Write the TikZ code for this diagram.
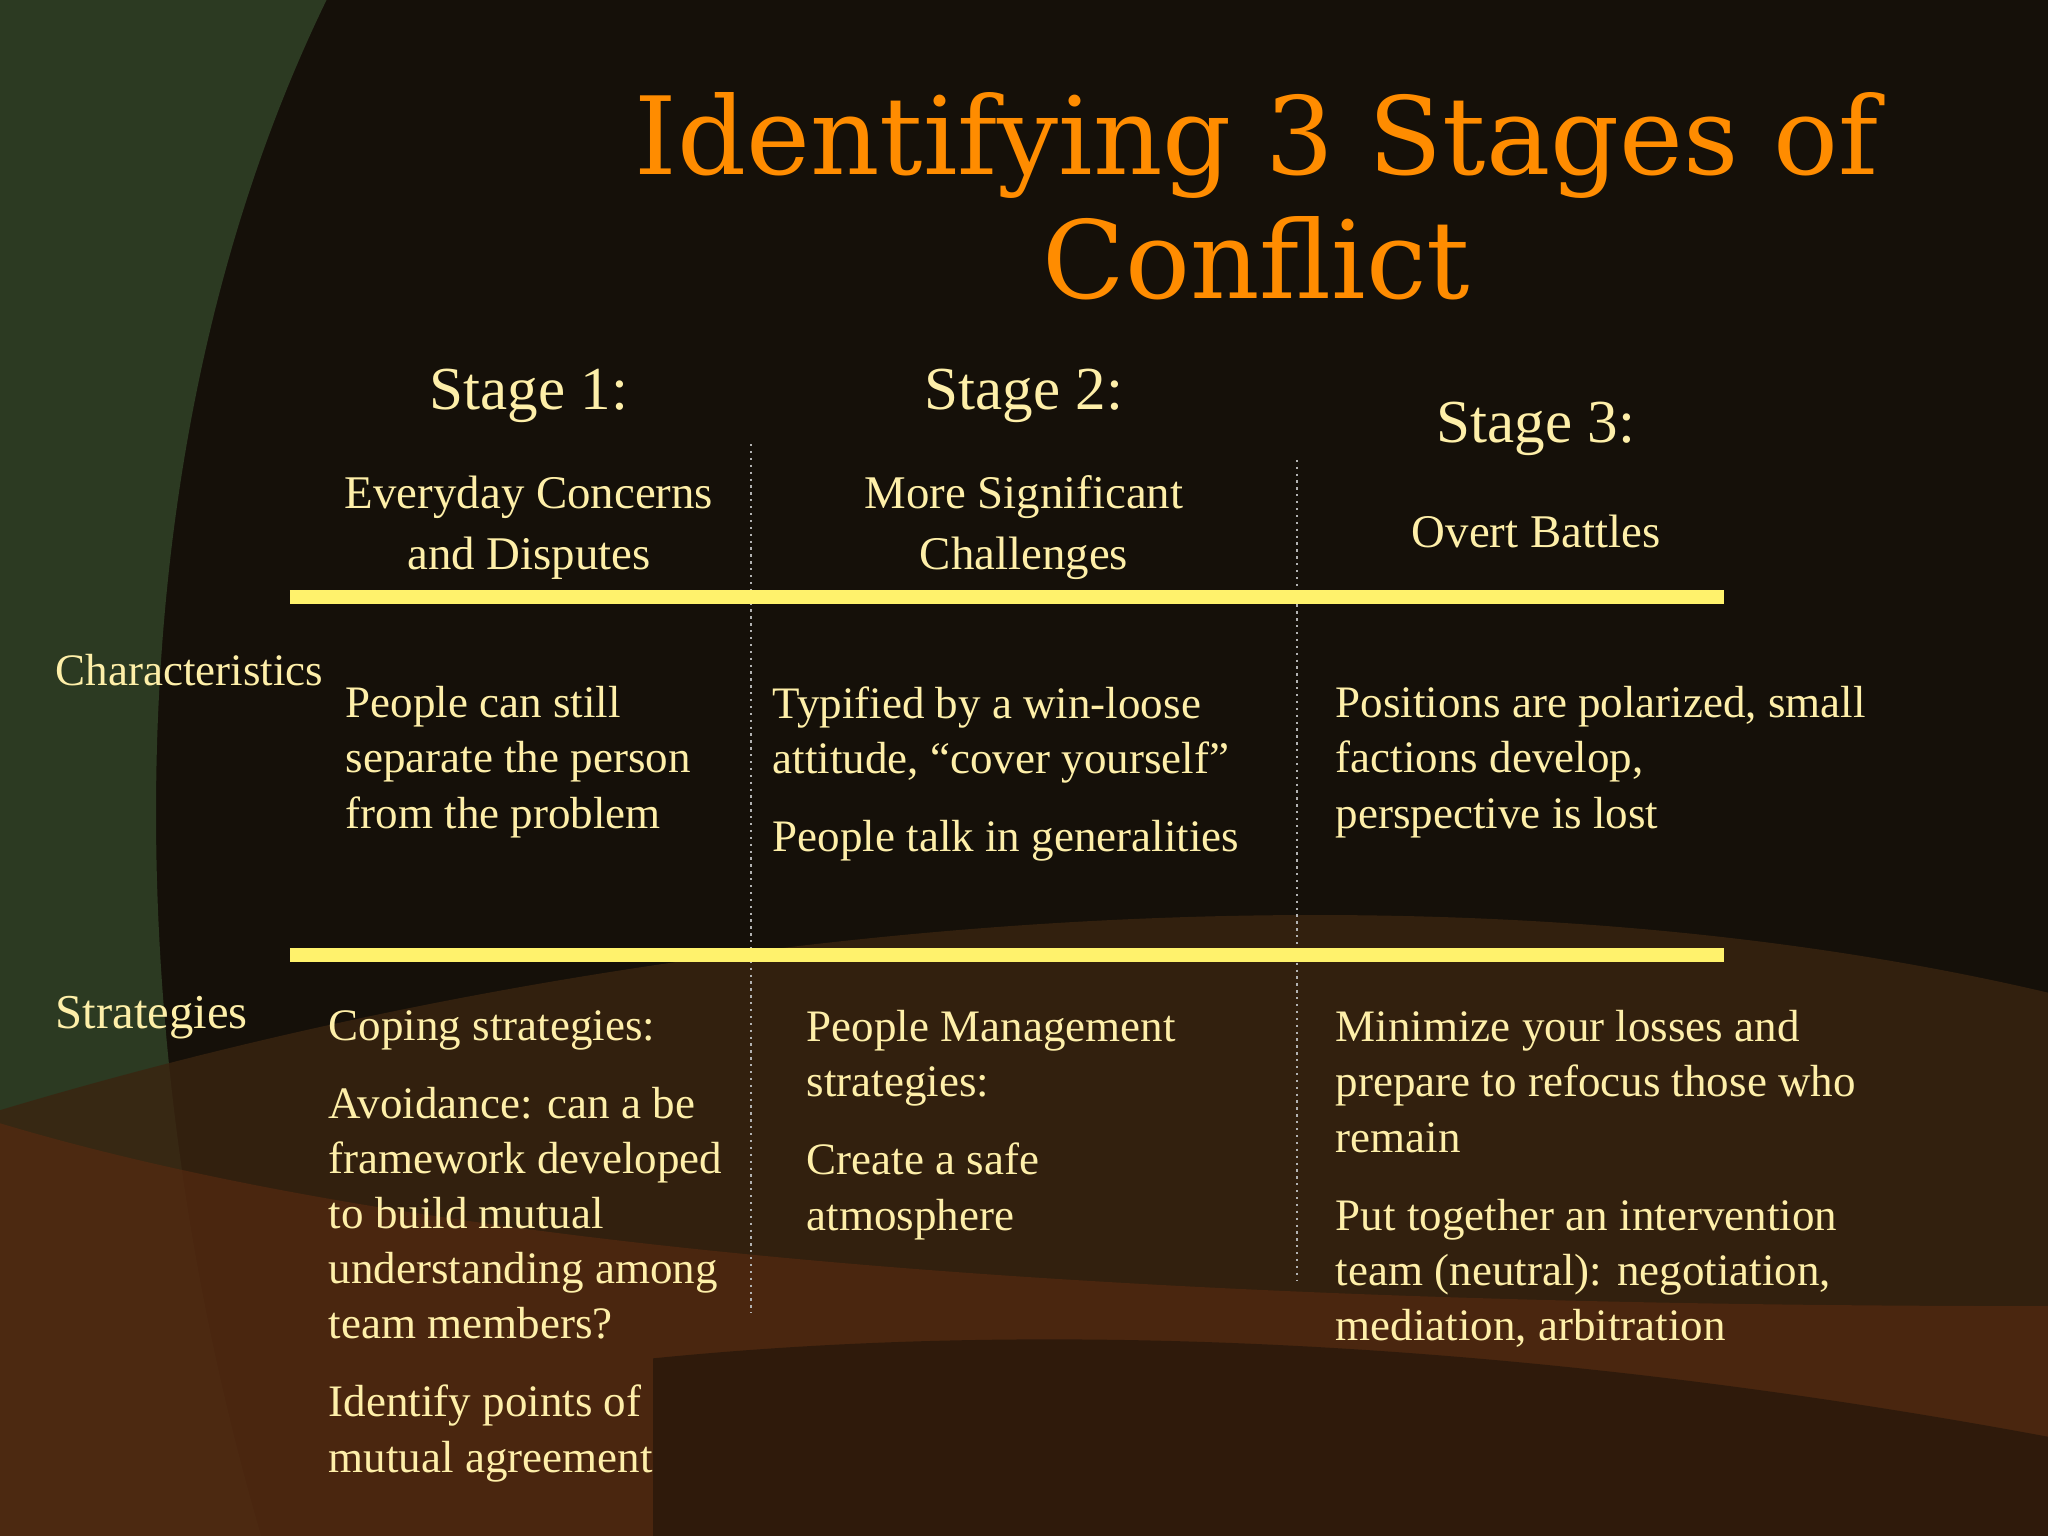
\documentclass[tikz,border=0pt]{standalone}
\usepackage{fontspec}
\setmainfont{Liberation Serif}
\newfontfamily\titlefont{DejaVu Serif}
\definecolor{bg}{HTML}{151009}
\definecolor{grn}{HTML}{2C3A22}
\definecolor{brn}{HTML}{3A2410}
\definecolor{rbrn}{HTML}{5A2A10}
\begin{document}
\begin{tikzpicture}[x=0.01cm,y=-0.01cm,
  txt/.style={text=yellow!25!white!90!orange,font=\fontsize{9.8pt}{12pt}\selectfont,align=left,anchor=north west,inner sep=0pt},
  head/.style={text=yellow!25!white!90!orange,font=\fontsize{13.3pt}{15pt}\selectfont,inner sep=0pt},
  sub/.style={text=yellow!25!white!90!orange,font=\fontsize{10.2pt}{13.4pt}\selectfont,align=center,inner sep=0pt},
  bar/.style={draw=yellow!55!white!95!orange,line width=3pt},
  sep/.style={draw=gray!60,densely dotted,line width=0.5pt}]
\useasboundingbox (0,0) rectangle (1568,1176);
\fill[bg] (0,0) rectangle (1568,1176);
\fill[grn] (0,0) -- (250,0) .. controls (80,350) and (90,800) .. (200,1176) -- (0,1176) -- cycle;
\fill[brn,opacity=0.8] (0,850) .. controls (500,700) and (1100,650) .. (1568,760) -- (1568,1176) -- (0,1176) -- cycle;
\fill[rbrn,opacity=0.6] (0,860) .. controls (300,950) and (800,1000) .. (1568,1000) -- (1568,1176) -- (0,1176) -- cycle;
\fill[bg,opacity=0.5] (500,1040) .. controls (900,1000) and (1300,1050) .. (1568,1100) -- (1568,1176) -- (500,1176) -- cycle;
\node[text=orange!90!yellow,font=\titlefont\fontsize{23.5pt}{27pt}\selectfont,align=center] (title) at (962,150) {Identifying 3 Stages of\\Conflict};
\node[head] (s1) at (405,303) {Stage 1:};
\node[head] (s2) at (784,303) {Stage 2:};
\node[head] (s3) at (1176,328) {Stage 3:};
\node[sub] (d1) at (405,404) {Everyday Concerns\\and Disputes};
\node[sub] (d2) at (784,404) {More Significant\\Challenges};
\node[sub] (d3) at (1176,407) {Overt Battles};
\draw[sep] (575,340) -- (575,1005);
\draw[sep] (993,352) -- (993,980);
\draw[bar] (222,457) -- (1320,457);
\draw[bar] (222,731) -- (1320,731);
\node[txt] (ch) at (42,500) {Characteristics};
\node[txt,font=\fontsize{10.6pt}{12pt}\selectfont] (st) at (42,762) {Strategies};
\node[txt] (c1) at (264,525) {People can still\\separate the person\\from the problem};
\node[txt] (c2) at (591,525) {Typified by a win-loose\\attitude, “cover yourself”\\[5pt]People talk in generalities};
\node[txt] (c3) at (1022,525) {Positions are polarized, small\\factions develop,\\perspective is lost};
\node[txt] (t1) at (251,773) {Coping strategies:\\[5pt]Avoidance: can a be\\framework developed\\to build mutual\\understanding among\\team members?\\[5pt]Identify points of\\mutual agreement};
\node[txt] (t2) at (617,773) {People Management\\strategies:\\[5pt]Create a safe\\atmosphere};
\node[txt] (t3) at (1022,773) {Minimize your losses and\\prepare to refocus those who\\remain\\[5pt]Put together an intervention\\team (neutral): negotiation,\\mediation, arbitration};
\end{tikzpicture}
\end{document}
